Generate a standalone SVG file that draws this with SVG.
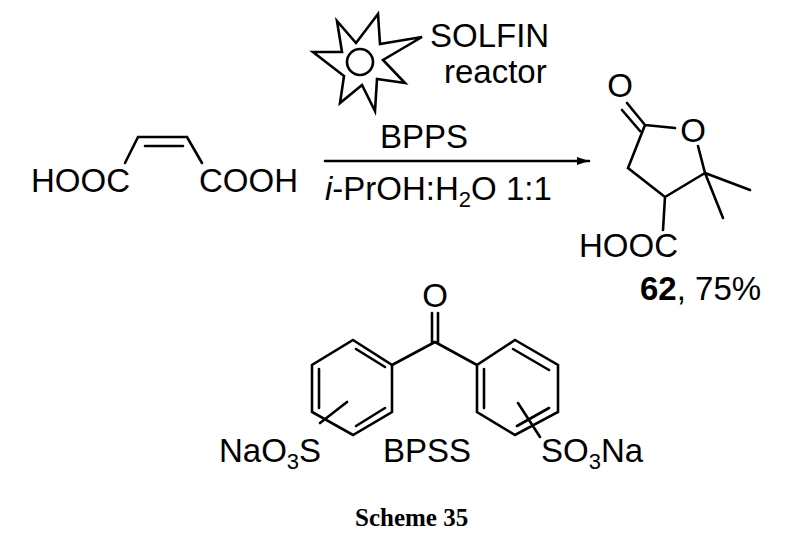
<svg xmlns="http://www.w3.org/2000/svg" width="792" height="556" viewBox="0 0 792 556">
<style>
.b{stroke:#000;stroke-width:2.6;fill:none;stroke-linecap:round;stroke-linejoin:miter}
.t{font-family:"Liberation Sans",Arial,sans-serif;font-size:33px;fill:#000}
.s{font-size:22px}
</style>
<defs><marker id="ah" viewBox="0 0 12 8" refX="12" refY="4" markerWidth="12" markerHeight="8" markerUnits="userSpaceOnUse" orient="auto"><path d="M0,0L12,4L0,8z" fill="#000"/></marker></defs>
<rect width="792" height="556" fill="#fff"/>
<g id="reactor">
<polygon class="b" stroke-width="1.8" points="337,21 356,43 378,14 380,44 422,37 383,60 405,83 377,79 375,111 362,85 340,103 344,76 313,52 342,52"/>
<circle class="b" stroke-width="1.8" cx="360" cy="62" r="13"/>
<text class="t" x="430" y="47">SOLFIN</text>
<text class="t" x="444" y="83">reactor</text>
</g>
<g id="maleic">
<path class="b" d="M125,163L138,137H187L202,163M145,146H183"/>
<text class="t" x="31" y="192">HOOC</text>
<text class="t" x="199" y="192">COOH</text>
</g>
<g id="connectors">
<line class="b" stroke-width="1.8" x1="325" y1="161" x2="589" y2="161" marker-end="url(#ah)"/>
</g>
<text class="t" x="380" y="148">BPPS</text>
<text class="t" x="325" y="200"><tspan font-style="italic">i</tspan>-PrOH:H<tspan class="s" dy="7">2</tspan><tspan dy="-7">O 1:1</tspan></text>
<g id="lactone">
<path class="b" d="M645,125L675,128M698,146L705,173L750,190M705,173L723,218M705,173L665,197L628,168L645,125M627,103L645,125M622,110L640,131M665,197L663,230"/>
<text class="t" x="620" y="97" text-anchor="middle">O</text>
<text class="t" x="693" y="142" text-anchor="middle">O</text>
<text class="t" x="579" y="257">HOOC</text>
<text class="t" x="640" y="300"><tspan font-weight="bold">62</tspan>, 75%</text>
</g>
<g id="bpss">
<path class="b" d="M432,313V342M438,313V342M435,342L392,365M435,342L477,365"/>
<path class="b" d="M353,340L392,365V412L353,435L312,412V365Z M356,349L385,367 M319,369V408 M385,408L356,426 M347,402L320,423"/>
<path class="b" d="M515,340L558,365V412L515,435L477,412V365Z M513,349L549,370 M484,369V408 M549,408L517,426 M518,403L540,437"/>
<text class="t" x="435" y="307" text-anchor="middle">O</text>
<text class="t" x="219" y="462">NaO<tspan class="s" dy="7">3</tspan><tspan dy="-7">S</tspan></text>
<text class="t" x="383" y="462">BPSS</text>
<text class="t" x="541" y="462">SO<tspan class="s" dy="7">3</tspan><tspan dy="-7">Na</tspan></text>
</g>
<text x="355" y="526" font-family="Liberation Serif,serif" font-weight="bold" font-size="25">Scheme 35</text>
</svg>
